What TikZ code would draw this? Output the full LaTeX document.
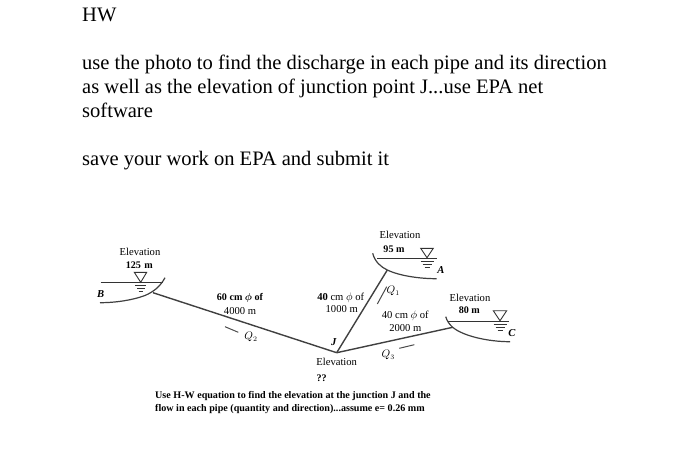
\documentclass[tikz,border=0pt]{standalone}
\usepackage{fontspec}
\setmainfont{Liberation Serif}
\tikzset{
  bigtext/.style={anchor=west,inner sep=0pt,font=\fontsize{20.55}{22}\selectfont},
  difftext/.style={inner sep=0pt,font=\fontsize{10.6}{12}\selectfont},
  boldtext/.style={inner sep=0pt,font=\fontsize{10.1}{12}\selectfont\bfseries},
  pipe/.style={line width=1.4pt,black!75},
  bank/.style={line width=1.2pt,black!75},
  water/.style={line width=0.9pt,black!80},
  tick/.style={line width=1pt,black!70}
}
\begin{document}
\begin{tikzpicture}[x=1pt,y=-1pt]
\useasboundingbox (0,0) rectangle (700,469);

% top text
\node[bigtext] (hw) at (82,14.5) {HW};
\node[bigtext] (lineone) at (82,64.5) {use the photo to find the discharge in each pipe and its direction};
\node[bigtext] (linetwo) at (82,88) {as well as the elevation of junction point J...use EPA net};
\node[bigtext] (linethree) at (82,110) {software};
\node[bigtext] (linefour) at (82,160.5) {save your work on EPA and submit it};

% junction and pipe ends
\coordinate (J) at (336.7,352.7);
\coordinate (pipeB) at (153,292.7);
\coordinate (pipeA) at (387.3,270);
\coordinate (pipeC) at (452.7,327.3);

\draw[pipe] (pipeB) -- (J);
\draw[pipe] (pipeA) -- (J);
\draw[pipe] (pipeC) -- (J);

% reservoir B
\draw[water] (100.7,282.7) -- (162.7,282.7);
\draw[bank] (165,277.7) .. controls (160,287) and (153,292) .. (145,295.5) .. controls (133,300) and (116,302.7) .. (100,302.7);
\draw[water] (134.3,272.3) -- (146.7,272.3) -- (140.7,282.3) -- cycle;
\draw[water] (135,285.7) -- (146,285.7);
\draw[water] (137,288) -- (144.5,288);
\draw[water] (138.5,291) -- (143,291);

% reservoir A
\draw[water] (377.3,258) -- (436.7,258);
\draw[bank] (372.7,253.3) .. controls (375,262) and (381,267) .. (387.3,270) .. controls (400,276) and (420,278.7) .. (436.7,278.7);
\draw[water] (420.7,248.3) -- (433.3,248.3) -- (427,257.7) -- cycle;
\draw[water] (420.5,261) -- (433.5,261);
\draw[water] (422.5,264) -- (431.5,264);
\draw[water] (424.5,267) -- (429.5,267);

% reservoir C
\draw[water] (448.3,321) -- (509.3,321);
\draw[bank] (445.7,316.7) .. controls (447,321) and (449.5,324.5) .. (452.7,327.3) .. controls (463,336) and (488,341.7) .. (510,341.7);
\draw[water] (493.3,310.7) -- (506.7,310.7) -- (500,320.7) -- cycle;
\draw[water] (493.5,324) -- (506.5,324);
\draw[water] (495.5,327) -- (504.5,327);
\draw[water] (497.5,330) -- (502.5,330);

% flow ticks
\draw[tick] (225,326.7) -- (238.3,332.3);
\draw[tick] (386.7,286.7) -- (377.3,304);
\draw[tick] (414.3,344.7) -- (399.3,348.3);

% labels
\node[difftext] (elevB) at (140,251.7) {Elevation};
\node[boldtext] (heightB) at (139.3,265) {125\,\,m};
\node[difftext] (nameB) at (100.7,294) {\textbf{\textit{B}}};
\node[boldtext] (pipeBone) at (240,298.3) {60 cm {\boldmath$\phi$} of};
\node[difftext] (pipeBtwo) at (240,310.7) {4000 m};
\node[difftext] (flowtwo) at (251,337.3) {$Q_2$};

\node[difftext] (elevA) at (400,235) {Elevation};
\node[boldtext] (heightA) at (394,249.3) {95 m};
\node[difftext] (nameA) at (441,270) {\textbf{\textit{A}}};
\node[difftext] (pipeAone) at (340.7,297.3) {\textbf{40} cm $\phi$ of};
\node[difftext] (pipeAtwo) at (341.7,309.3) {1000 m};
\node[difftext] (flowone) at (393.3,290.7) {$Q_1$};

\node[difftext] (elevC) at (470,297.7) {Elevation};
\node[boldtext] (heightC) at (469.3,310.3) {80 m};
\node[difftext] (nameC) at (512,333.3) {\textbf{\textit{C}}};
\node[difftext] (pipeCone) at (405.3,316) {40 cm $\phi$ of};
\node[difftext] (pipeCtwo) at (405.3,328.3) {2000 m};
\node[difftext] (flowthree) at (388.3,355) {$Q_3$};

\node[difftext] (nameJ) at (334,342.3) {\textbf{\textit{J}}};
\node[difftext] (elevJ) at (336.7,361.7) {Elevation};
\node[boldtext] (heightJ) at (321.7,378) {??};

\node[boldtext,anchor=west] (noteone) at (155,396) {Use H-W equation to find the elevation at the junction J and the};
\node[boldtext,anchor=west] (notetwo) at (155,409) {flow in each pipe (quantity and direction)...assume e= 0.26 mm};

\end{tikzpicture}
\end{document}
